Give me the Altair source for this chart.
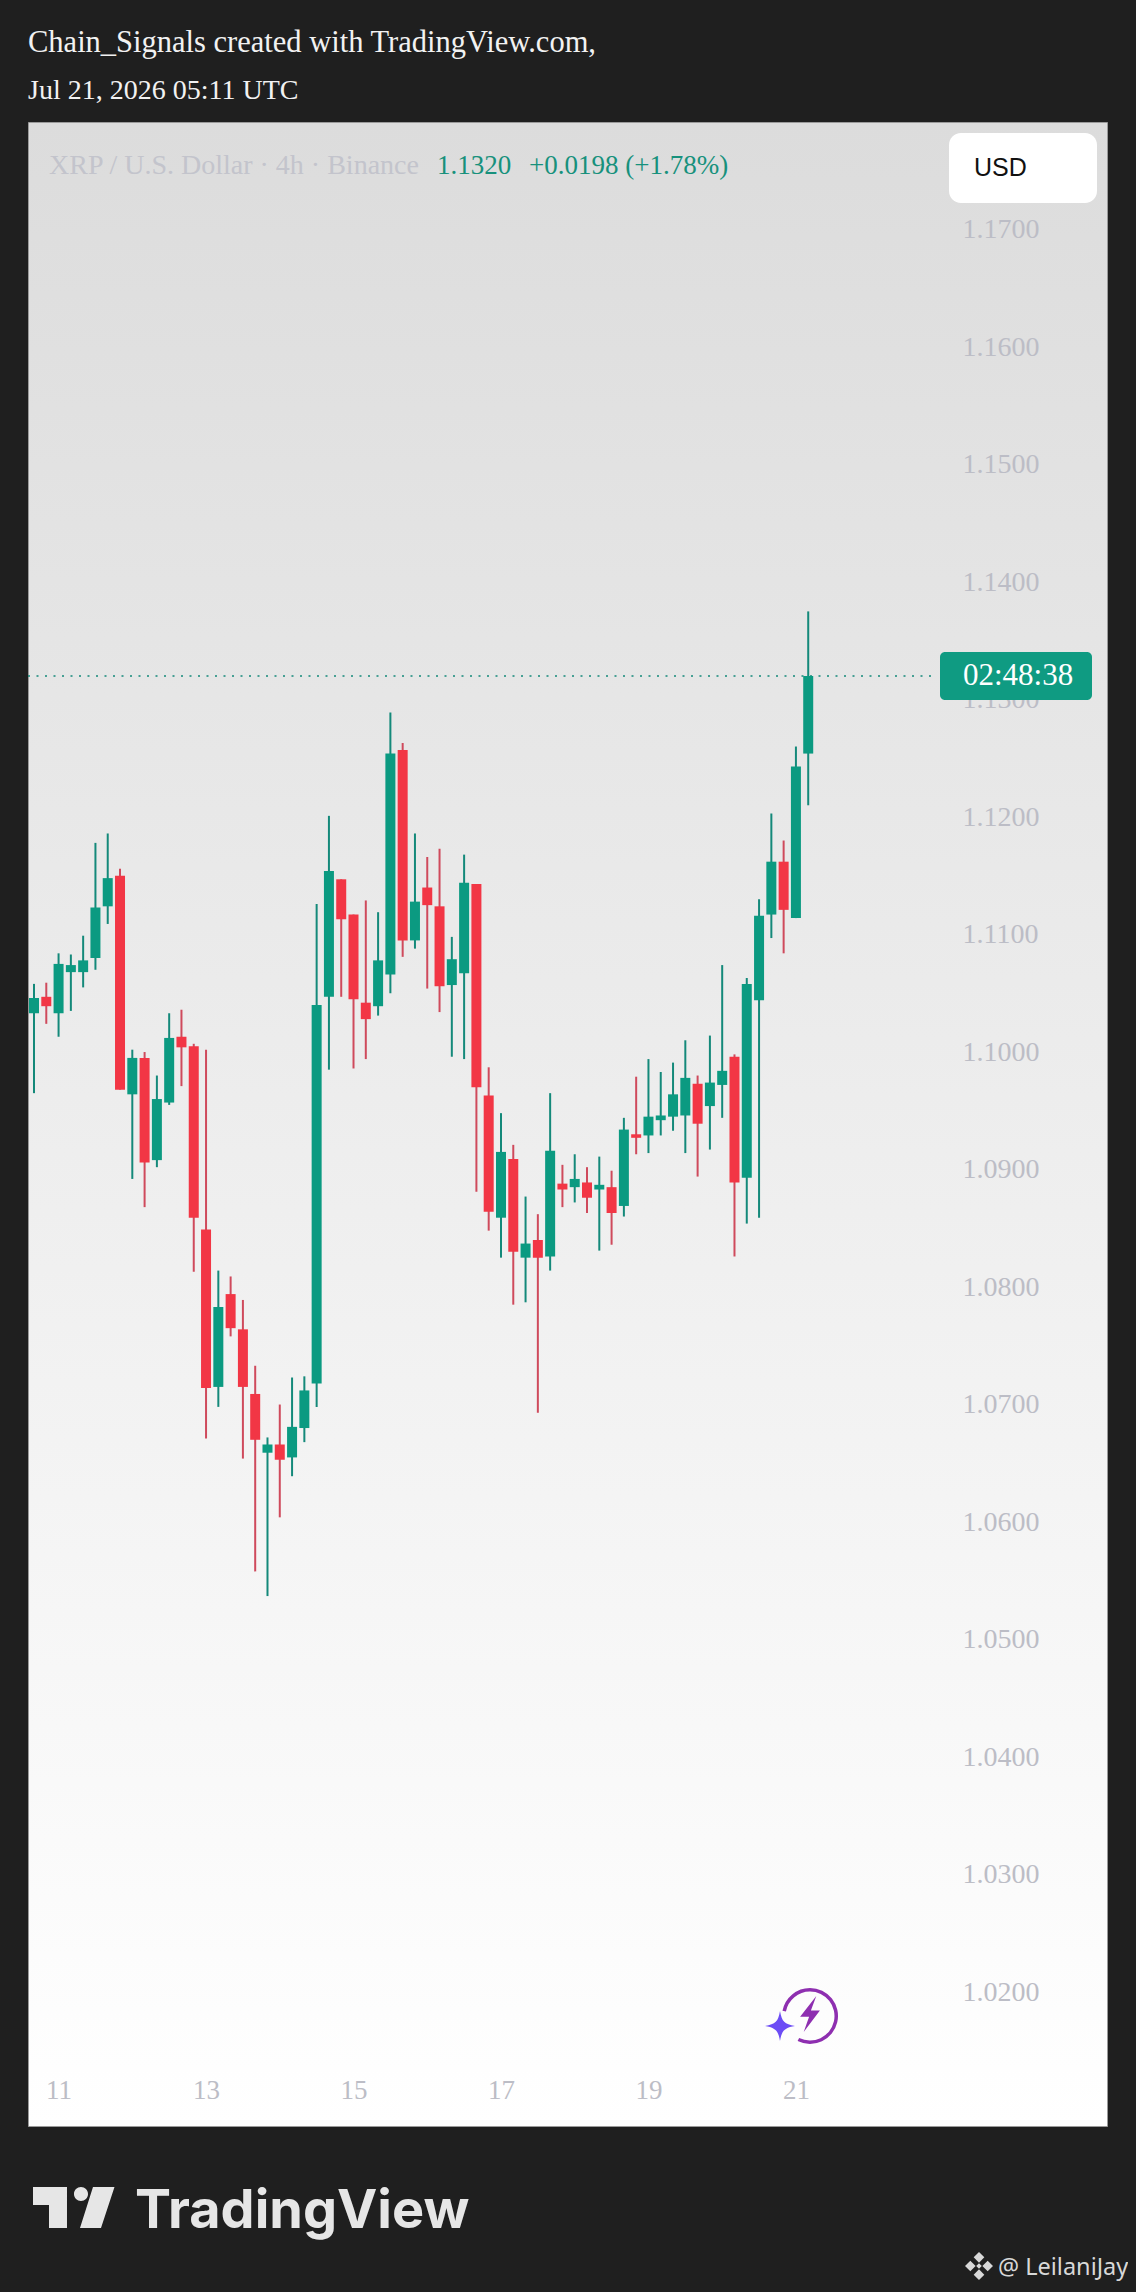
import altair as alt
import pandas as pd

high = [1.1058,1.1059,1.1084,1.1083,1.1099,1.1178,1.1186,1.1156,1.1002,1.1000,1.0980,1.1033,1.1036,1.1007,1.1002,1.0814,
        1.0809,1.0789,1.0733,1.0672,1.0700,1.0723,1.0724,1.1126,1.1201,1.1147,1.1117,1.1129,1.1119,1.1289,1.1263,1.1186,
        1.1166,1.1173,1.1098,1.1168,1.1143,1.0987,1.0948,1.0921,1.0877,1.0862,1.0965,1.0904,1.0913,1.0902,1.0911,1.0899,
        1.0944,1.0979,1.0994,1.0983,1.0991,1.1010,1.0980,1.1014,1.1074,1.0998,1.1063,1.1130,1.1203,1.1180,1.1260,1.1375]
low = [1.0965,1.1024,1.1013,1.1035,1.1055,1.1070,1.1109,1.0968,1.0892,1.0868,1.0902,1.0955,1.0971,1.0813,1.0671,1.0698,
       1.0758,1.0654,1.0558,1.0537,1.0604,1.0639,1.0668,1.0698,1.0985,1.1047,1.0986,1.0994,1.1031,1.1050,1.1081,1.1088,
       1.1054,1.1034,1.0996,1.0994,1.0881,1.0848,1.0825,1.0785,1.0787,1.0693,1.0814,1.0868,1.0872,1.0863,1.0831,1.0836,
       1.0860,1.0913,1.0914,1.0929,1.0933,1.0914,1.0894,1.0917,1.0944,1.0826,1.0854,1.0859,1.1097,1.1084,1.1114,1.1210]
open_ = [1.1033,1.1047,1.1033,1.1068,1.1068,1.1080,1.1124,1.1150,1.0964,1.0995,1.0908,1.0957,1.1013,1.1005,1.0849,1.0715,
         1.0794,1.0764,1.0709,1.0659,1.0666,1.0655,1.0680,1.0718,1.1047,1.1147,1.1117,1.1042,1.1039,1.1066,1.1257,1.1095,
         1.1140,1.1124,1.1057,1.1067,1.1143,1.0963,1.0859,1.0909,1.0825,1.0840,1.0826,1.0888,1.0885,1.0889,1.0883,1.0885,
         1.0869,1.0930,1.0929,1.0942,1.0945,1.0946,1.0973,1.0954,1.0972,1.0996,1.0893,1.1044,1.1117,1.1162,1.1114,1.1254]
close = [1.1046,1.1039,1.1075,1.1074,1.1078,1.1123,1.1148,1.0968,1.0995,1.0906,1.0960,1.1012,1.1004,1.0859,1.0714,1.0783,
         1.0765,1.0715,1.0670,1.0666,1.0653,1.0681,1.0712,1.1040,1.1154,1.1113,1.1045,1.1028,1.1078,1.1254,1.1095,1.1128,
         1.1125,1.1056,1.1079,1.1144,1.0970,1.0864,1.0915,1.0830,1.0837,1.0825,1.0916,1.0883,1.0892,1.0876,1.0887,1.0863,
         1.0934,1.0927,1.0945,1.0946,1.0964,1.0978,1.0939,1.0974,1.0984,1.0889,1.1058,1.1116,1.1162,1.1121,1.1243,1.1320]
times = pd.date_range("2026-07-10 16:00", periods=len(close), freq="4h").strftime("%Y-%m-%dT%H:%M:%SZ").tolist()
price_ticks = [1.17,1.16,1.15,1.14,1.13,1.12,1.11,1.10,1.09,1.08,1.07,1.06,1.05,1.04,1.03,1.02]
day_ticks = [11,13,15,17,19,21]
last_price = [1.1320]

SERIF = "Liberation Serif"
GREEN, RED = "#0b9a81", "#f23645"
GREEN_W, RED_W = "#14897a", "#cf4a5c"
W, H = 1079, 2004
PL, PT = 20, 114   # plot origin inside the canvas (image coords minus the 8px page margin)

candles = pd.DataFrame({"t": times, "open": open_, "close": close, "high": high, "low": low})
candles["dir"] = ["up" if c > o else "down" for o, c in zip(open_, close)]

xscale = alt.Scale(type="utc", domain=["2026-07-10T14:03:00Z", "2026-07-25T05:15:00Z"], padding=0)
yscale = alt.Scale(domain=[1.0086, 1.17915], zero=False, nice=False)

xaxis = alt.Axis(orient="bottom", offset=-36, domain=False, ticks=False, grid=False, title=None,
                 values=[alt.DateTime(year=2026, month=7, date=d, utc=True) for d in day_ticks],
                 format="%-d", labelFont=SERIF, labelFontSize=27, labelColor="#bcbdc6",
                 labelPadding=0, labelBaseline="middle", labelAlign="center", labelFlush=False, labelOverlap=False)
yaxis = alt.Axis(orient="right", offset=-145, domain=False, ticks=False, grid=False, title=None,
                 values=price_ticks, format=".4f", labelFont=SERIF, labelFontSize=28, labelColor="#bcbdc6",
                 labelPadding=0, labelAlign="left", labelBaseline="middle", labelFlush=False, labelOverlap=False)

base = alt.Chart(candles)
x = alt.X("t:T", scale=xscale, axis=xaxis)
color_w = alt.Color("dir:N", scale=alt.Scale(domain=["up", "down"], range=[GREEN_W, RED_W]), legend=None)
color_b = alt.Color("dir:N", scale=alt.Scale(domain=["up", "down"], range=[GREEN, RED]), legend=None)

price_line = alt.Chart(pd.DataFrame({"p": last_price})).mark_rule(
    color="#14897a", strokeWidth=1.5, strokeDash=[2, 6.5]
).encode(y=alt.Y("p:Q", scale=yscale, axis=yaxis), x=alt.value(0), x2=alt.value(908))

wicks = base.mark_rule(strokeWidth=2).encode(
    x=x, y=alt.Y("low:Q", scale=yscale, axis=yaxis), y2="high:Q", color=color_w)
bodies = base.mark_bar(width=10).encode(
    x=x, y=alt.Y("open:Q", scale=yscale, axis=yaxis), y2="close:Q", color=color_b)

def one():
    return alt.Chart(alt.Data(values=[{}]))

def label(text, px, py, size, color, font=SERIF, weight="normal", baseline="alphabetic", **kw):
    return one().mark_text(text=text, font=font, fontSize=size, color=color, fontWeight=weight,
                           align="left", baseline=baseline, **kw).encode(
        x=alt.value(px - 28), y=alt.value(py - 122))

def box(x0, x1, y0, y1, color, radius):
    return one().mark_rect(color=color, cornerRadius=radius).encode(
        x=alt.value(x0 - 28), x2=alt.value(x1 - 28), y=alt.value(y0 - 122), y2=alt.value(y1 - 122))

def glyph(path, cx, cy, extent, color):
    return one().mark_point(shape=path, size=extent ** 2, filled=True, fill=color, opacity=1, strokeWidth=0).encode(
        x=alt.value(cx - 28), y=alt.value(cy - 122))

def arc(t0, t1):
    return one().mark_arc(radius=28, radius2=24.5, theta=t0, theta2=t1, color="#8e2fb0").encode(
        x=alt.value(810 - 28), y=alt.value(2016 - 122))

usd_box = box(949, 1097, 133, 203, "#ffffff", 12)
count_box = box(940, 1092, 652, 700, "#0f9b82", 5)

LOGO = ("M-1.006,-0.506L-0.167,-0.506L-0.167,0.506L-0.611,0.506L-0.611,-0.062L-1.006,-0.062Z"
        "M0.475,-0.506L1.006,-0.506L0.673,0.506L0.154,0.506Z"
        "M0.006,-0.333a0.173,0.173 0 1 0 0.346,0a0.173,0.173 0 1 0 -0.346,0Z")
BINANCE = ("M0,-1L0.38,-0.62L0,-0.24L-0.38,-0.62Z M0,1L0.38,0.62L0,0.24L-0.38,0.62Z"
           "M-1,0L-0.62,-0.38L-0.24,0L-0.62,0.38Z M1,0L0.62,-0.38L0.24,0L0.62,0.38Z M0,-0.2L0.2,0L0,0.2L-0.2,0Z")
STAR = "M0,-1C0.12,-0.3 0.3,-0.12 1,0C0.3,0.12 0.12,0.3 0,1C-0.12,0.3 -0.3,0.12 -1,0C-0.3,-0.12 -0.12,-0.3 0,-1Z"
BOLT = "M0.35,-1L-0.55,0.15L-0.05,0.15L-0.35,1L0.55,-0.2L0.05,-0.2Z"

layers = [
    price_line, wicks, bodies, usd_box, count_box,
    label("Chain_Signals created with TradingView.com,", 28, 52, 30.5, "#f2f2f2"),
    label("Jul 21, 2026 05:11 UTC", 28, 99, 28, "#f2f2f2"),
    label("XRP / U.S. Dollar · 4h · Binance", 49, 174, 28, "#c3c4cc"),
    label("1.1320", 437, 174, 27, "#17917c"),
    label("+0.0198 (+1.78%)", 529, 174, 27, "#17917c"),
    label("USD", 974, 176, 25, "#111111", font="Liberation Sans"),
    label("02:48:38", 963, 676, 31, "#ffffff", baseline="middle"),
    arc(0, 3.6), arc(4.9, 6.2832),
    glyph(BOLT, 810, 2014, 36, "#8e2fb0"),
    glyph(STAR, 780, 2026, 30, "#6c4cf5"),
    glyph(LOGO, 73.75, 2207.5, 81, "#e6e6e6"),
    label("TradingView", 135, 2228, 54, "#e6e6e6", font="Inter", weight="bold"),
    glyph(BINANCE, 979, 2266, 28, "#d8d8d8"),
    label("@ LeilaniJay", 998, 2275, 23.5, "#d8d8d8", font="Noto Sans"),
]

GRADIENT = ("{gradient:'linear',x1:0,y1:0,x2:0,y2:1,"
            "stops:[{offset:0,color:'#dcdcdc'},{offset:1,color:'#ffffff'}]}")

chart = alt.layer(*layers).properties(
    width=W, height=H,
    padding={"left": PL, "top": PT, "right": 1120 - PL - W, "bottom": 2276 - PT - H},
    autosize=alt.AutoSizeParams(type="none"),
    background="#1f1f1f",
    view=alt.ViewBackground(fill={"expr": GRADIENT}, stroke="#9a9a9a", strokeWidth=1),
).resolve_scale(color="independent")

chart.save("out.html", embed_options={
    "renderer": "svg", "actions": False,
    "defaultStyle": "html,body{background:#1f1f1f;}",
})
